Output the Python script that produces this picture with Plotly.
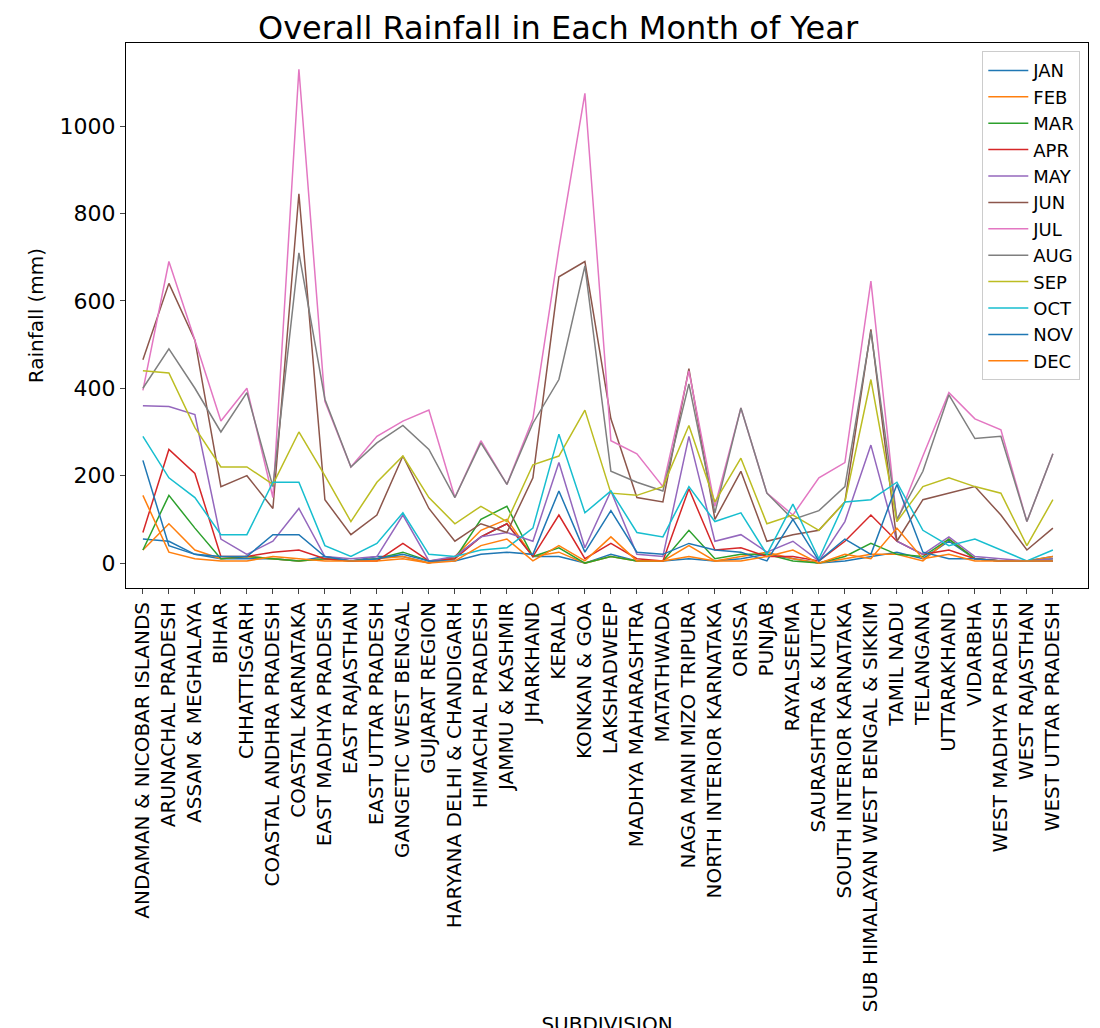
import plotly.graph_objects as go

subdivisions = [
    "ANDAMAN & NICOBAR ISLANDS", "ARUNACHAL PRADESH", "ASSAM & MEGHALAYA", "BIHAR",
    "CHHATTISGARH", "COASTAL ANDHRA PRADESH", "COASTAL KARNATAKA", "EAST MADHYA PRADESH",
    "EAST RAJASTHAN", "EAST UTTAR PRADESH", "GANGETIC WEST BENGAL", "GUJARAT REGION",
    "HARYANA DELHI & CHANDIGARH", "HIMACHAL PRADESH", "JAMMU & KASHMIR", "JHARKHAND",
    "KERALA", "KONKAN & GOA", "LAKSHADWEEP", "MADHYA MAHARASHTRA", "MATATHWADA",
    "NAGA MANI MIZO TRIPURA", "NORTH INTERIOR KARNATAKA", "ORISSA", "PUNJAB",
    "RAYALSEEMA", "SAURASHTRA & KUTCH", "SOUTH INTERIOR KARNATAKA",
    "SUB HIMALAYAN WEST BENGAL & SIKKIM", "TAMIL NADU", "TELANGANA", "UTTARAKHAND",
    "VIDARBHA", "WEST MADHYA PRADESH", "WEST RAJASTHAN", "WEST UTTAR PRADESH",
]

jan = [55, 50, 20, 10, 10, 10, 5, 15, 5, 15, 15, 0, 15, 60, 90, 15, 15, 0, 20, 5, 5, 10, 5, 10, 20, 10, 0, 5, 15, 25, 10, 50, 10, 5, 5, 15]
feb = [30, 90, 30, 10, 15, 10, 5, 10, 5, 10, 15, 0, 15, 75, 100, 15, 25, 0, 15, 5, 5, 40, 5, 15, 25, 10, 0, 10, 20, 20, 5, 55, 10, 5, 5, 15]
mar = [30, 155, 80, 10, 15, 10, 5, 10, 5, 10, 25, 5, 10, 100, 130, 15, 35, 0, 15, 5, 5, 75, 10, 20, 20, 5, 0, 15, 45, 20, 15, 55, 10, 5, 5, 10]
apr = [70, 260, 205, 15, 15, 25, 30, 10, 5, 5, 45, 5, 10, 60, 90, 15, 110, 10, 45, 10, 5, 170, 30, 35, 15, 15, 5, 50, 110, 50, 20, 30, 10, 5, 5, 5]
may = [360, 358, 340, 55, 20, 50, 125, 15, 10, 15, 110, 5, 15, 60, 70, 50, 230, 35, 165, 20, 15, 290, 50, 65, 25, 50, 5, 95, 270, 50, 20, 60, 15, 10, 5, 10]
jun = [465, 640, 510, 175, 200, 125, 845, 145, 65, 110, 245, 125, 50, 90, 70, 195, 655, 690, 330, 150, 140, 445, 100, 210, 50, 65, 75, 140, 535, 50, 145, 160, 175, 110, 30, 80]
jul = [395, 690, 510, 325, 400, 150, 1130, 370, 220, 290, 325, 350, 150, 280, 180, 330, 720, 1075, 280, 250, 175, 440, 130, 355, 160, 110, 195, 230, 645, 95, 245, 390, 330, 305, 95, 250]
aug = [400, 490, 400, 300, 390, 175, 710, 375, 220, 275, 315, 260, 150, 275, 180, 320, 420, 680, 210, 185, 165, 410, 115, 355, 160, 100, 120, 175, 530, 100, 210, 385, 285, 290, 95, 250]
sep = [440, 435, 310, 220, 220, 180, 300, 200, 95, 185, 245, 150, 90, 130, 95, 225, 245, 350, 160, 155, 175, 315, 140, 240, 90, 110, 75, 140, 420, 95, 175, 195, 175, 160, 40, 145]
oct_ = [290, 195, 150, 65, 65, 185, 185, 40, 15, 45, 115, 20, 15, 30, 35, 80, 295, 115, 165, 70, 60, 175, 95, 115, 20, 135, 10, 140, 145, 185, 75, 40, 55, 30, 5, 30]
nov = [235, 40, 20, 15, 15, 65, 65, 15, 5, 10, 20, 5, 5, 20, 25, 20, 165, 25, 120, 25, 20, 45, 30, 25, 5, 100, 5, 55, 20, 180, 25, 10, 10, 5, 5, 5]
dec = [155, 25, 10, 5, 5, 15, 10, 5, 5, 5, 10, 0, 5, 40, 55, 5, 40, 5, 60, 5, 5, 15, 5, 5, 15, 30, 0, 20, 10, 80, 10, 20, 5, 5, 5, 5]

months = ["JAN", "FEB", "MAR", "APR", "MAY", "JUN", "JUL", "AUG", "SEP", "OCT", "NOV", "DEC"]
series = [jan, feb, mar, apr, may, jun, jul, aug, sep, oct_, nov, dec]

# matplotlib tab10 cycle
colors = ["#1f77b4", "#ff7f0e", "#2ca02c", "#d62728", "#9467bd", "#8c564b",
          "#e377c2", "#7f7f7f", "#bcbd22", "#17becf", "#1f77b4", "#ff7f0e"]

fig = go.Figure()
for name, vals, c in zip(months, series, colors):
    fig.add_trace(go.Scatter(x=list(range(len(subdivisions))), y=vals, mode="lines",
                             name=name, line=dict(color=c, width=1.5)))

font = "DejaVu Sans"
fig.update_layout(
    width=1100, height=1028,
    paper_bgcolor="white", plot_bgcolor="white",
    font=dict(family=font, size=18, color="black"),
    title=dict(text="Overall Rainfall in Each Month of Year", x=0.5, xanchor="center",
               y=0.981, yanchor="middle", font=dict(size=32)),
    margin=dict(l=118, r=20, t=35, b=448, autoexpand=False),
    xaxis=dict(tickmode="array", tickvals=list(range(len(subdivisions))), ticktext=subdivisions,
               tickangle=-90, range=[-0.65, 36.35], showgrid=False, zeroline=False,
               showline=True, mirror=True, linecolor="black", ticks="outside",
               ticklen=5, tickfont=dict(size=20),
               title=dict(text="SUBDIVISION", font=dict(size=20), standoff=8)),
    yaxis=dict(range=[-57, 1190], tickvals=[0, 200, 400, 600, 800, 1000], showgrid=False,
               zeroline=False, showline=True, mirror=True, linecolor="black",
               ticks="outside", ticklen=5, tickfont=dict(size=22),
               title=dict(text="Rainfall (mm)", font=dict(size=20), standoff=10)),
    legend=dict(x=0.992, y=0.985, xanchor="right", yanchor="top", bgcolor="white",
                bordercolor="#cccccc", borderwidth=1, font=dict(size=18),
                tracegroupgap=0, itemwidth=40),
)

fig.write_html("out.html")
